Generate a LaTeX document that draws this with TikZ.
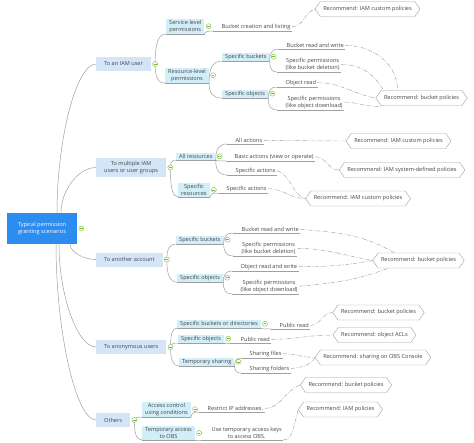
\documentclass[tikz,border=0pt]{standalone}
\usepackage{fontspec}
\setmainfont{Open Sans}
\usepackage{tikz}
\usetikzlibrary{calc,shapes.symbols}
\definecolor{rootblue}{RGB}{45,140,240}
\definecolor{topicblue}{RGB}{213,229,248}
\definecolor{subcyan}{RGB}{210,238,249}
\definecolor{linegrey}{RGB}{160,160,160}
\definecolor{inkgrey}{RGB}{70,70,70}
\definecolor{foldgreen}{RGB}{125,185,60}
\tikzset{
  base/.style={font=\fontsize{5.6}{7}\selectfont, align=center, text=inkgrey},
  root/.style={base, fill=rootblue, text=white, minimum width=70pt, minimum height=31pt, inner sep=2pt},
  topic/.style={base, fill=topicblue, anchor=west, inner xsep=8pt, inner ysep=3.2pt, minimum height=14pt},
  sub/.style={base, fill=subcyan, anchor=south west, inner xsep=3pt, inner ysep=1.3pt},
  leaf/.style={base, anchor=south west, inner xsep=1.5pt, inner ysep=1.3pt},
  rec/.style={base, signal, signal to=west and east, signal pointer angle=110, draw=linegrey, fill=white, line width=0.4pt, minimum height=15pt, inner xsep=3pt, inner ysep=1pt},
  link/.style={draw=linegrey, line width=0.5pt},
  hint/.style={draw=linegrey, line width=0.45pt, dash pattern=on 4pt off 1.5pt on 0.8pt off 1.5pt},
  elbow/.style={to path={.. controls ($(\tikztostart)!#1!(\tikztostart |- \tikztotarget)$) and ($(\tikztotarget)!#1!(\tikztostart |- \tikztotarget)$) .. (\tikztotarget)}},
  elbow/.default=0.7,
  fold/.style={circle, draw=foldgreen, fill=white, line width=0.4pt, minimum size=5pt, inner sep=0pt,
    path picture={\draw[foldgreen, line width=0.4pt] ([xshift=-1.4pt]path picture bounding box.center) -- ([xshift=1.4pt]path picture bounding box.center);}},
}
\begin{document}
\begin{tikzpicture}[x=1pt,y=1pt]
  \useasboundingbox (0,0) rectangle (474,-442);
  % root and main branches
  \node[root] (root) at (42,-228.5) {Typical permission\\granting scenarios};
  \node[topic] (t1) at (96,-64) {To an IAM user};
  \node[topic] (t2) at (96,-167.5) {To multiple IAM\\users or user groups};
  \node[topic] (t3) at (96,-259.5) {To another account};
  \node[topic] (t4) at (96,-347) {To anonymous users};
  \node[topic] (t5) at (96,-420) {Others};
  % second level
  \node[sub] (s11) at (166,-34) {Service-level\\permissions};
  \node[sub] (s12) at (165,-83) {Resource-level\\permissions};
  \node[sub] (s121) at (222,-61) {Specific buckets};
  \node[sub] (s122) at (222,-98) {Specific objects};
  \node[sub] (s21) at (176,-160) {All resources};
  \node[sub] (s22) at (178,-197) {Specific\\resources};
  \node[sub] (s31) at (176,-244) {Specific buckets};
  \node[sub] (s32) at (177,-282) {Specific objects};
  \node[sub] (s41) at (177,-328) {Specific buckets or directories};
  \node[sub] (s42) at (178,-343) {Specific objects};
  \node[sub] (s43) at (179,-366) {Temporary sharing};
  \node[sub] (s51) at (142,-417) {Access control\\using conditions};
  \node[sub] (s52) at (142,-440) {Temporary access\\to OBS};
  % leaves
  \node[leaf] (l11) at (220,-31) {Bucket creation and listing};
  \node[leaf] (l121) at (285,-49) {Bucket read and write};
  \node[leaf] (l122) at (284,-72) {Specific permissions\\(like bucket deletion)};
  \node[leaf] (l123) at (284,-87) {Object read};
  \node[leaf] (l124) at (284,-110) {Specific permissions\\(like object download)};
  \node[leaf] (l21) at (234,-144) {All actions};
  \node[leaf] (l22) at (233,-161) {Basic actions (view or operate)};
  \node[leaf] (l23) at (234,-175) {Specific actions};
  \node[leaf] (l24) at (225,-193) {Specific actions};
  \node[leaf] (l31) at (240,-233) {Bucket read and write};
  \node[leaf] (l32) at (240,-256) {Specific permissions\\(like bucket deletion)};
  \node[leaf] (l33) at (239,-271) {Object read and write};
  \node[leaf] (l34) at (239,-294) {Specific permissions\\(like object download)};
  \node[leaf] (l41) at (278,-329) {Public read};
  \node[leaf] (l42) at (239,-343) {Public read};
  \node[leaf] (l43) at (248,-358) {Sharing files};
  \node[leaf] (l44) at (248,-373) {Sharing folders};
  \node[leaf] (l51) at (206,-412) {Restrict IP addresses.};
  \node[leaf] (l52) at (210,-440) {Use temporary access keys\\to access OBS.};
  % recommendations
  \node[rec] (r1) at (367.5,-9) {Recommend: IAM custom policies};
  \node[rec] (r2) at (421.5,-98) {Recommend: bucket policies};
  \node[rec] (r3) at (398.5,-141) {Recommend: IAM custom policies};
  \node[rec] (r4) at (402,-170) {Recommend: IAM system-defined policies};
  \node[rec] (r5) at (358,-198.5) {Recommend: IAM custom policies};
  \node[rec] (r6) at (418.5,-260.5) {Recommend: bucket policies};
  \node[rec] (r7) at (378.5,-312.5) {Recommend: bucket policies};
  \node[rec] (r8) at (374.5,-335) {Recommend: object ACLs};
  \node[rec] (r9) at (373,-357.5) {Recommend: sharing on OBS Console};
  \node[rec] (r10) at (346,-385) {Recommend: bucket policies};
  \node[rec] (r11) at (340.5,-409.5) {Recommend: IAM policies};
  % connectors
  \foreach \n in {root,t1,t2,t3,t4,t5,s11,s12,s121,s122,s21,s22,s31,s32,s41,s42,s43,s51,s52}{\coordinate (\n-f) at ([xshift=4pt]\n.east);}
  \foreach \n in {l11,l121,l122,l123,l124,l21,l22,l23,l24,l31,l32,l33,l34,l41,l42,l43,l44,l51,l52}{
    \coordinate (\n-u) at ([xshift=-7pt]\n.south west);
    \draw[link] (\n-u) -- (\n.south east);
  }
  \foreach \n in {s11,s12,s121,s122,s21,s22,s31,s32,s41,s42,s43,s51,s52}{\draw[link] (\n.south west) -- (\n.south east);}
  \draw[link] ([xshift=15pt]root.north) to[elbow=0.5] (t1.west);
  \draw[link] ([xshift=19pt]root.north) to[elbow=0.5] (t2.west);
  \draw[link] ([xshift=-7pt]root.south east) to[elbow=0.5] (t3.west);
  \draw[link] ([xshift=17pt]root.south) to[elbow=0.5] (t4.west);
  \draw[link] ([xshift=14pt]root.south) to[elbow=0.5] (t5.west);
  \foreach \a/\b in {t1/s11,t1/s12,t2/s21,t2/s22,t3/s31,t3/s32,t4/s41,t4/s42,t4/s43,t5/s51,t5/s52}{\draw[link] (\a-f) to[elbow] (\b.south west);}
  \foreach \a/\b in {s12/s121,s12/s122}{\draw[link] (\a.south east) to[elbow] (\b.south west);}
  \foreach \a/\b in {s11/l11,s121/l121,s121/l122,s122/l123,s122/l124,s21/l21,s21/l22,s21/l23,s22/l24,s31/l31,s31/l32,s32/l33,s32/l34,s41/l41,s42/l42,s43/l43,s43/l44,s51/l51,s52/l52}{\draw[link] (\a.south east) to[elbow] (\b-u);}
  % dash-dot links to recommendations
  \draw[hint] (l11.east) to[out=0,in=200] (r1.west);
  \draw[hint] (l121.east) to[out=0,in=90] ([xshift=-24pt]r2.north);
  \draw[hint] (l122.east) to[out=0,in=120] ([xshift=-38pt]r2.north);
  \draw[hint] (l123.east) to[out=0,in=170] (r2.west);
  \draw[hint] (l124.east) to[out=0,in=190] ([xshift=-38pt]r2.south);
  \draw[hint] (l21.east) to[out=0,in=180] (r3.west);
  \draw[hint] (l22.east) to[out=0,in=180] (r4.west);
  \draw[hint] (l23.east) to[out=-20,in=160] (r5.west);
  \draw[hint] (l24.east) to[out=0,in=180] (r5.west);
  \draw[hint] (l31.east) to[out=-5,in=150] ([xshift=-24pt]r6.north);
  \draw[hint] (l32.east) to[out=0,in=170] (r6.west);
  \draw[hint] (l33.east) to[out=0,in=190] (r6.west);
  \draw[hint] (l34.east) to[out=5,in=200] ([xshift=-30pt]r6.south);
  \draw[hint] (l41.east) to[out=0,in=180] (r7.west);
  \draw[hint] (l42.east) to[out=0,in=180] (r8.west);
  \draw[hint] (l43.east) to[out=0,in=180] (r9.west);
  \draw[hint] (l44.east) to[out=10,in=-120] (r9.west);
  \draw[hint] (l51.east) to[out=0,in=200] (r10.west);
  \draw[hint] (l52.south east) .. controls +(10,0) and +(-4,-14) .. (r11.west);
  % fold markers
  \foreach \n in {root,t1,t2,t3,t4,t5,s11,s12,s121,s122,s21,s22,s31,s32,s41,s42,s43,s51,s52}{\node[fold] at (\n-f) {};}
\end{tikzpicture}
\end{document}
